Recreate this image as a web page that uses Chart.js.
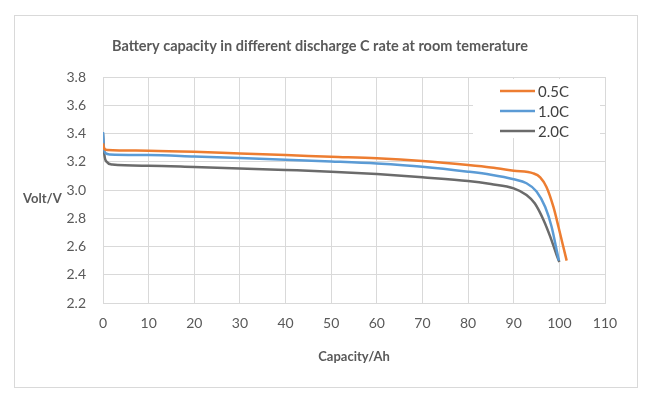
<!DOCTYPE html>
<html>
<head>
<meta charset="utf-8">
<title>Battery capacity</title>
<script src="https://cdn.jsdelivr.net/npm/chart.js@4.4.1/dist/chart.umd.min.js"></script>
<style>
    html, body { margin: 0; padding: 0; background: #fff; }
    #wrap { width: 650px; height: 399px; position: relative; }
</style>
</head>
<body>
<div id="wrap"><canvas id="batteryChart"></canvas></div>
<script>
// capacity (Ah) and voltage (V)
const cap05 = [0, 0.3, 1, 10, 20, 30, 40, 50, 60, 70, 80, 85, 90, 94.3, 95.8, 97.2, 98.7, 99.8, 100.7, 101.6];
const volt05 = [3.33, 3.29, 3.283, 3.278, 3.27, 3.258, 3.247, 3.235, 3.224, 3.205, 3.177, 3.16, 3.137, 3.118, 3.09, 3.02, 2.88, 2.74, 2.62, 2.5];

const cap10 = [0, 0.2, 0.6, 1.5, 10, 20, 30, 40, 50, 60, 70, 80, 85, 90, 92.8, 95, 96.9, 98.3, 99.4, 99.9];
const volt10 = [3.41, 3.3, 3.26, 3.252, 3.248, 3.238, 3.227, 3.215, 3.202, 3.187, 3.165, 3.13, 3.108, 3.076, 3.048, 2.99, 2.88, 2.74, 2.575, 2.5];

const cap20 = [0, 0.3, 0.8, 2, 10, 20, 30, 40, 50, 60, 70, 80, 85, 90, 92.8, 94.6, 96.5, 98, 99.4, 100];
const volt20 = [3.4, 3.25, 3.2, 3.18, 3.172, 3.163, 3.153, 3.142, 3.13, 3.113, 3.09, 3.064, 3.042, 3.012, 2.965, 2.906, 2.79, 2.67, 2.54, 2.49];

const seriesNames = ['0.5C', '1.0C', '2.0C'];
const seriesColors = ['#ED7D31', '#5B9BD5', '#6B6B6B'];

const xTicks = [0, 10, 20, 30, 40, 50, 60, 70, 80, 90, 100, 110];
const yTicks = [2.2, 2.4, 2.6, 2.8, 3.0, 3.2, 3.4, 3.6, 3.8];

const chartTitle = 'Battery capacity in different discharge C rate at room temerature';

function toPoints(xs, ys) {
    return xs.map((x, i) => ({ x: x, y: ys[i] }));
}

// frame, title and the horizontal y-axis title
const framePlugin = {
    id: 'frame',
    beforeDraw(chart) {
        const ctx = chart.ctx;
        ctx.save();
        ctx.fillStyle = '#fff';
        ctx.fillRect(0, 0, chart.width, chart.height);
        ctx.strokeStyle = '#d9d9d9';
        ctx.lineWidth = 1;
        ctx.strokeRect(14.5, 15.5, 623, 372);
        ctx.restore();
    },
    afterDraw(chart) {
        const ctx = chart.ctx;
        const y = chart.scales.y;
        ctx.save();
        ctx.fillStyle = '#595959';
        ctx.textBaseline = 'middle';

        ctx.font = 'bold 14.5px Lato';
        ctx.textAlign = 'center';
        ctx.fillText(chartTitle, 320, 46);

        ctx.font = 'bold 13px Lato';
        ctx.textAlign = 'left';
        ctx.fillText('Volt/V', 23, y.getPixelForValue(2.94));
        ctx.restore();
    }
};

// legend boxed inside the plot, top right
const insideLegend = {
    id: 'insideLegend',
    afterDatasetsDraw(chart) {
        const ctx = chart.ctx;
        const area = chart.chartArea;
        const left = area.right - 132;
        const top = area.top + 2;
        ctx.save();
        ctx.fillStyle = '#fff';
        ctx.fillRect(left, top, 127, 59);
        ctx.font = '15px Lato';
        ctx.textBaseline = 'middle';
        ctx.textAlign = 'left';
        chart.data.datasets.forEach((ds, i) => {
            const yy = top + 12 + i * 20;
            ctx.strokeStyle = ds.borderColor;
            ctx.lineWidth = 2.5;
            ctx.beginPath();
            ctx.moveTo(left + 27, yy);
            ctx.lineTo(left + 62, yy);
            ctx.stroke();
            ctx.fillStyle = '#404040';
            ctx.fillText(ds.label, left + 65, yy + 1);
        });
        ctx.restore();
    }
};

document.addEventListener('DOMContentLoaded', function() {
    const ctx = document.getElementById('batteryChart').getContext('2d');
    const caps = [cap05, cap10, cap20];
    const volts = [volt05, volt10, volt20];

    new Chart(ctx, {
        type: 'line',
        data: {
            datasets: seriesNames.map((name, i) => ({
                label: name,
                data: toPoints(caps[i], volts[i]),
                borderColor: seriesColors[i],
                backgroundColor: seriesColors[i],
                borderWidth: 2.5,
                pointRadius: 0,
                cubicInterpolationMode: 'monotone',
                fill: false
            }))
        },
        options: {
            responsive: true,
            maintainAspectRatio: false,
            animation: false,
            layout: { padding: { left: 0, right: 45, top: 77, bottom: 30 } },
            plugins: {
                legend: { display: false },
                tooltip: { enabled: false },
                title: { display: false }
            },
            scales: {
                x: {
                    type: 'linear',
                    min: 0,
                    max: 110,
                    afterBuildTicks(scale) { scale.ticks = xTicks.map(v => ({ value: v })); },
                    afterFit(scale) { scale.height = 66; },
                    grid: { color: '#d9d9d9', drawTicks: false },
                    border: { color: '#d9d9d9' },
                    ticks: {
                        color: '#595959',
                        font: { family: 'Lato', size: 14 },
                        padding: 12,
                        maxRotation: 0
                    },
                    title: {
                        display: true,
                        text: 'Capacity/Ah',
                        color: '#595959',
                        font: { family: 'Lato', size: 13, weight: 'bold' },
                        padding: { top: 9 }
                    }
                },
                y: {
                    min: 2.2,
                    max: 3.8,
                    afterBuildTicks(scale) { scale.ticks = yTicks.map(v => ({ value: v })); },
                    afterFit(scale) { scale.width = 103; },
                    grid: { color: '#d9d9d9', drawTicks: false },
                    border: { color: '#d9d9d9' },
                    ticks: {
                        color: '#595959',
                        font: { family: 'Lato', size: 14 },
                        padding: 17,
                        callback: v => v.toFixed(1)
                    }
                }
            }
        },
        plugins: [framePlugin, insideLegend]
    });
});
</script>
</body>
</html>
